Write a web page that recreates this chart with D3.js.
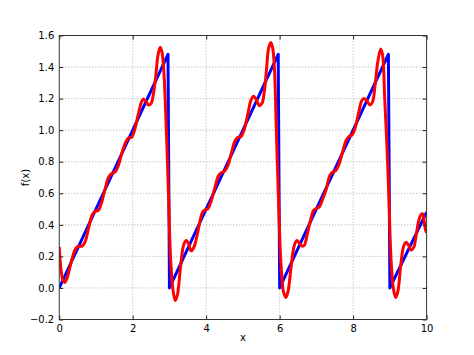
<!DOCTYPE html>
<html>
<head>
<meta charset="utf-8">
<script src="https://cdn.jsdelivr.net/npm/d3@7"></script>
<style>
  body { margin: 0; background: #fff; }
  svg { display: block; font-family: "DejaVu Sans", sans-serif; }
</style>
</head>
<body>
<div id="chart"></div>
<script>
// sawtooth (blue) vertices
const blueX = [0, 2.96, 3.0, 5.96, 6.0, 8.96, 9.0, 10]
const blueY = [0, 1.48, 0, 1.48, 0, 1.48, 0, 0.48]

// approximation (red), traced point by point
const redX = [
  0.00, 0.05, 0.10, 0.15, 0.21, 0.30, 0.38, 0.45, 0.53, 0.62, 0.70, 0.80, 0.89, 0.97, 1.06,
  1.14, 1.23, 1.34, 1.42, 1.52, 1.60, 1.70, 1.80, 1.88, 1.97, 2.05, 2.16, 2.24, 2.29, 2.35,
  2.43, 2.50, 2.57, 2.63, 2.69, 2.75, 2.80, 2.85, 2.92, 2.98,
  3.02, 3.06, 3.10, 3.16, 3.22, 3.30, 3.39, 3.46, 3.52, 3.59, 3.66, 3.74, 3.82, 3.90, 3.97,
  4.04, 4.12, 4.22, 4.33, 4.41, 4.50, 4.58, 4.68, 4.78, 4.86, 4.95, 5.03, 5.14, 5.22, 5.29,
  5.36, 5.45, 5.52, 5.58, 5.64, 5.70, 5.76, 5.81, 5.86, 5.91, 5.97,
  6.02, 6.06, 6.10, 6.17, 6.23, 6.31, 6.40, 6.47, 6.53, 6.61, 6.67, 6.75, 6.84, 6.92, 7.00,
  7.07, 7.15, 7.26, 7.37, 7.45, 7.53, 7.61, 7.71, 7.81, 7.89, 7.97, 8.05, 8.15, 8.23, 8.29,
  8.36, 8.46, 8.53, 8.60, 8.67, 8.75, 8.80, 8.86, 8.92, 8.97,
  9.02, 9.06, 9.10, 9.16, 9.22, 9.29, 9.37, 9.44, 9.51, 9.58, 9.65, 9.72, 9.79, 9.85, 9.89,
  9.93, 9.97, 10.0
]
const redY = [
  0.26, 0.11, 0.05, 0.035, 0.06, 0.14, 0.21, 0.25, 0.265, 0.265, 0.29, 0.38, 0.46, 0.485, 0.49,
  0.53, 0.61, 0.70, 0.725, 0.735, 0.77, 0.85, 0.92, 0.95, 0.955, 1.00, 1.11, 1.18, 1.197, 1.185,
  1.16, 1.17, 1.24, 1.35, 1.48, 1.525, 1.49, 1.36, 0.97, 0.55,
  0.24, 0.08, -0.02, -0.08, -0.04, 0.13, 0.275, 0.30, 0.28, 0.235, 0.255, 0.32, 0.41, 0.48, 0.495,
  0.50, 0.54, 0.62, 0.71, 0.73, 0.74, 0.77, 0.85, 0.93, 0.955, 0.96, 1.00, 1.11, 1.19, 1.215,
  1.195, 1.155, 1.17, 1.24, 1.38, 1.52, 1.555, 1.52, 1.38, 0.99, 0.55,
  0.22, 0.07, -0.02, -0.06, -0.02, 0.13, 0.27, 0.30, 0.285, 0.265, 0.27, 0.34, 0.43, 0.49, 0.505,
  0.51, 0.55, 0.62, 0.715, 0.735, 0.745, 0.78, 0.86, 0.935, 0.96, 0.97, 1.01, 1.11, 1.185, 1.20,
  1.19, 1.16, 1.18, 1.29, 1.43, 1.515, 1.48, 1.20, 0.90, 0.60,
  0.24, 0.08, -0.01, -0.06, -0.02, 0.13, 0.26, 0.29, 0.27, 0.24, 0.257, 0.34, 0.43, 0.465, 0.47,
  0.43, 0.37, 0.35
]

const xTicks = [0, 2, 4, 6, 8, 10]
const yTicks = [-0.2, 0.0, 0.2, 0.4, 0.6, 0.8, 1.0, 1.2, 1.4, 1.6]
const xLabel = "x"
const yLabel = "f(x)"

const width = 474
const height = 355
const margin = { left: 59.25, right: 474 - 426.6, top: 35.5, bottom: 355 - 319.5 }

const svg = d3.select("#chart")
  .append("svg")
  .attr("width", width)
  .attr("height", height)

const x = d3.scaleLinear().domain([0, 10]).range([margin.left, width - margin.right])
const y = d3.scaleLinear().domain([-0.2, 1.6]).range([height - margin.bottom, margin.top])

const [x0, x1] = x.range()
const [y0, y1] = y.range()

svg.append("defs").append("clipPath")
  .attr("id", "plot-clip")
  .append("rect")
  .attr("x", x0).attr("y", y1)
  .attr("width", x1 - x0).attr("height", y0 - y1)

// grid
const grid = svg.append("g").attr("class", "grid")
grid.selectAll("line.gx")
  .data(xTicks.slice(1, -1))
  .join("line")
  .attr("x1", d => x(d)).attr("x2", d => x(d))
  .attr("y1", y1).attr("y2", y0)
grid.selectAll("line.gy")
  .data(yTicks.slice(1, -1))
  .join("line")
  .attr("class", "gy")
  .attr("x1", x0).attr("x2", x1)
  .attr("y1", d => y(d)).attr("y2", d => y(d))
grid.selectAll("line")
  .attr("stroke", "#9a9a9a")
  .attr("stroke-width", 0.8)
  .attr("stroke-dasharray", "1,2")

// curves
const plot = svg.append("g").attr("clip-path", "url(#plot-clip)")

const blueLine = d3.line()
  .x(i => x(blueX[i]))
  .y(i => y(blueY[i]))

plot.append("path")
  .attr("d", blueLine(d3.range(blueX.length)))
  .attr("fill", "none")
  .attr("stroke", "#0000ff")
  .attr("stroke-width", 3)
  .attr("stroke-linejoin", "round")

const redLine = d3.line()
  .x(i => x(redX[i]))
  .y(i => y(redY[i]))
  .curve(d3.curveCatmullRom.alpha(0.5))

plot.append("path")
  .attr("d", redLine(d3.range(redX.length)))
  .attr("fill", "none")
  .attr("stroke", "#ff0000")
  .attr("stroke-width", 3)
  .attr("stroke-linejoin", "round")

// axes: ticks inward on all four sides
const tickLen = 4
const fmtY = d => d3.format(".1f")(d).replace("-", "\u2212")

const bottomAxis = d3.axisBottom(x).tickValues(xTicks).tickFormat(d3.format("d"))
  .tickSizeInner(-tickLen).tickSizeOuter(0).tickPadding(5)
const topAxis = d3.axisTop(x).tickValues(xTicks).tickFormat("")
  .tickSizeInner(-tickLen).tickSizeOuter(0)
const leftAxis = d3.axisLeft(y).tickValues(yTicks).tickFormat(fmtY)
  .tickSizeInner(-tickLen).tickSizeOuter(0).tickPadding(5)
const rightAxis = d3.axisRight(y).tickValues(yTicks).tickFormat("")
  .tickSizeInner(-tickLen).tickSizeOuter(0)

svg.append("g").attr("transform", `translate(0,${y0})`).call(bottomAxis)
svg.append("g").attr("transform", `translate(0,${y1})`).call(topAxis)
svg.append("g").attr("transform", `translate(${x0},0)`).call(leftAxis)
svg.append("g").attr("transform", `translate(${x1},0)`).call(rightAxis)

svg.selectAll(".domain").remove()
svg.selectAll(".tick line").attr("stroke", "#222").attr("stroke-width", 1)
svg.selectAll(".tick text")
  .attr("fill", "#000")
  .style("font-size", "10px")
  .style("font-family", "'DejaVu Sans', sans-serif")

// frame
svg.append("rect")
  .attr("x", x0).attr("y", y1)
  .attr("width", x1 - x0).attr("height", y0 - y1)
  .attr("fill", "none")
  .attr("stroke", "#333")
  .attr("stroke-width", 1)

// axis labels
svg.append("text")
  .attr("x", (x0 + x1) / 2)
  .attr("y", 341)
  .attr("text-anchor", "middle")
  .style("font-size", "10px")
  .text(xLabel)

svg.append("text")
  .attr("transform", `translate(29,${(y0 + y1) / 2}) rotate(-90)`)
  .attr("text-anchor", "middle")
  .style("font-size", "10px")
  .text(yLabel)
</script>
</body>
</html>
